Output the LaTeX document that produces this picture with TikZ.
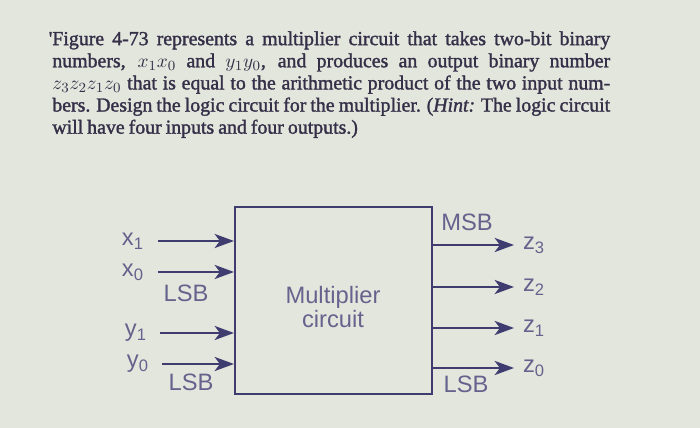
\documentclass[tikz,border=0pt]{standalone}
\usepackage{fontspec}
\setmainfont{Liberation Serif}
\newfontfamily\taskfont{Liberation Serif}[FakeBold=1.5]
\newfontfamily\diagfont{Liberation Sans}
\usetikzlibrary{arrows.meta}
\usetikzlibrary{positioning}
\definecolor{papier}{HTML}{E3E6DD}
\definecolor{tinte}{HTML}{3F3C70}
\definecolor{druck}{HTML}{352F48}
\tikzset{
  signal/.style={tinte, line width=1.4pt, -{Stealth[length=11pt,width=8pt,inset=3pt]}},
  pin/.style={font=\diagfont\fontsize{13.5}{14}\selectfont, text=tinte!80, inner sep=1pt},
}

\begin{document}
\begin{tikzpicture}[x=0.02cm,y=-0.02cm]
    % Hintergrund
    \fill[papier] (0,0) rectangle (700,428);

    % Aufgabentext
    \node[anchor=north west, inner sep=0, text width=11.16cm, align=justify,
          font=\taskfont\fontsize{11.3}{12.6}\selectfont, text=druck] (task) at (52,31)
      {\spaceskip=0.2em plus 0.4em minus 0.1em
       \llap{'}Figure 4-73 represents a multiplier circuit that takes two-bit binary\linebreak
       numbers, $x_1x_0$ and $y_1y_0$, and produces an output binary number\linebreak
       $z_3z_2z_1z_0$ that is equal to the arithmetic product of the two input num-\linebreak
       bers. Design the logic circuit for the multiplier. (\textit{Hint:} The logic circuit\linebreak
       will have four inputs and four outputs.)};

    % Block
    \node[draw=tinte, line width=1.2pt, minimum width=3.94cm, minimum height=3.74cm] (mult) at (333.5,300.5) {};
    \node[pin, align=center] (multtext) at (333,307) {Multiplier\\circuit};

    % Eingaenge
    \node[pin, anchor=east] (x1) at (146,241) {x\textsubscript{1}};
    \node[pin, anchor=east] (x0) at (146,272) {x\textsubscript{0}};
    \node[pin, anchor=east] (y1) at (149,333) {y\textsubscript{1}};
    \node[pin, anchor=east] (y0) at (151,364) {y\textsubscript{0}};
    \draw[signal] ([xshift=0.24cm]x1.east) -- (x1.east -| mult.west);
    \draw[signal] ([xshift=0.24cm]x0.east) -- (x0.east -| mult.west);
    \draw[signal] ([xshift=0.22cm]y1.east) -- (y1.east -| mult.west);
    \draw[signal] ([xshift=0.22cm]y0.east) -- (y0.east -| mult.west);
    \node[pin] (lsbx) at (186,293) {LSB};
    \node[pin] (lsby) at (191,382) {LSB};

    % Ausgaenge
    \node[pin, anchor=west] (z3) at (521,245) {z\textsubscript{3}};
    \node[pin, anchor=west] (z2) at (521,287) {z\textsubscript{2}};
    \node[pin, anchor=west] (z1) at (521,328) {z\textsubscript{1}};
    \node[pin, anchor=west] (z0) at (521,368) {z\textsubscript{0}};
    \draw[signal] (z3.west -| mult.east) -- ([xshift=-0.14cm]z3.west);
    \draw[signal] (z2.west -| mult.east) -- ([xshift=-0.14cm]z2.west);
    \draw[signal] (z1.west -| mult.east) -- ([xshift=-0.14cm]z1.west);
    \draw[signal] (z0.west -| mult.east) -- ([xshift=-0.14cm]z0.west);
    \node[pin] (msb) at (467,222) {MSB};
    \node[pin] (lsbz) at (466,384) {LSB};
\end{tikzpicture}
\end{document}
